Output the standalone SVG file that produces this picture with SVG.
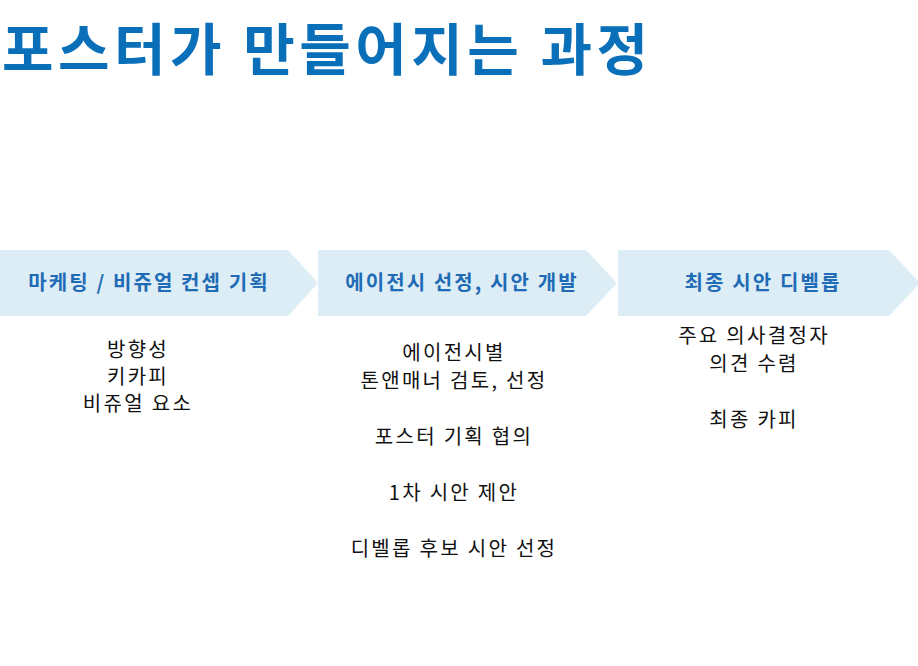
<svg xmlns="http://www.w3.org/2000/svg" width="918" height="666" viewBox="0 0 918 666">
<style>
.t{font-family:"Noto Sans CJK KR","Noto Sans",sans-serif}
.c{fill:#DCEDF5}
.h{font-size:20px;font-weight:600;fill:#1F6BB5;text-anchor:middle;letter-spacing:2.1px}
.b{font-size:20px;fill:#111;text-anchor:middle;letter-spacing:2.3px}
</style>
<rect width="918" height="666" fill="#fff"/>
<text class="t" x="2" y="70" font-size="56" font-weight="bold" fill="#0A6FB9" letter-spacing="4.5">포스터가 만들어지는 과정</text>
<g id="step1"><polygon class="c" points="0,250 288,250 318,283 288,316 0,316"/><text class="t h" x="149" y="290">마케팅 / 비쥬얼 컨셉 기획</text>
<text class="t b" x="138" y="357">방향성</text><text class="t b" x="138" y="384">키카피</text><text class="t b" x="138" y="411">비쥬얼 요소</text></g>
<g id="step2"><polygon class="c" points="318,250 586,250 617,283 586,316 318,316"/><text class="t h" x="462" y="290">에이전시 선정, 시안 개발</text>
<text class="t b" x="454" y="360">에이전시별</text><text class="t b" x="454" y="388">톤앤매너 검토, 선정</text><text class="t b" x="454" y="444">포스터 기획 협의</text><text class="t b" x="454" y="500">1차 시안 제안</text><text class="t b" x="454" y="556">디벨롭 후보 시안 선정</text></g>
<g id="step3"><polygon class="c" points="618,250 889,250 920,283 889,316 618,316"/><text class="t h" x="763" y="290">최종 시안 디벨롭</text>
<text class="t b" x="754" y="343">주요 의사결정자</text><text class="t b" x="754" y="371">의견 수렴</text><text class="t b" x="754" y="427">최종 카피</text></g>
<g id="connectors"/>
</svg>
